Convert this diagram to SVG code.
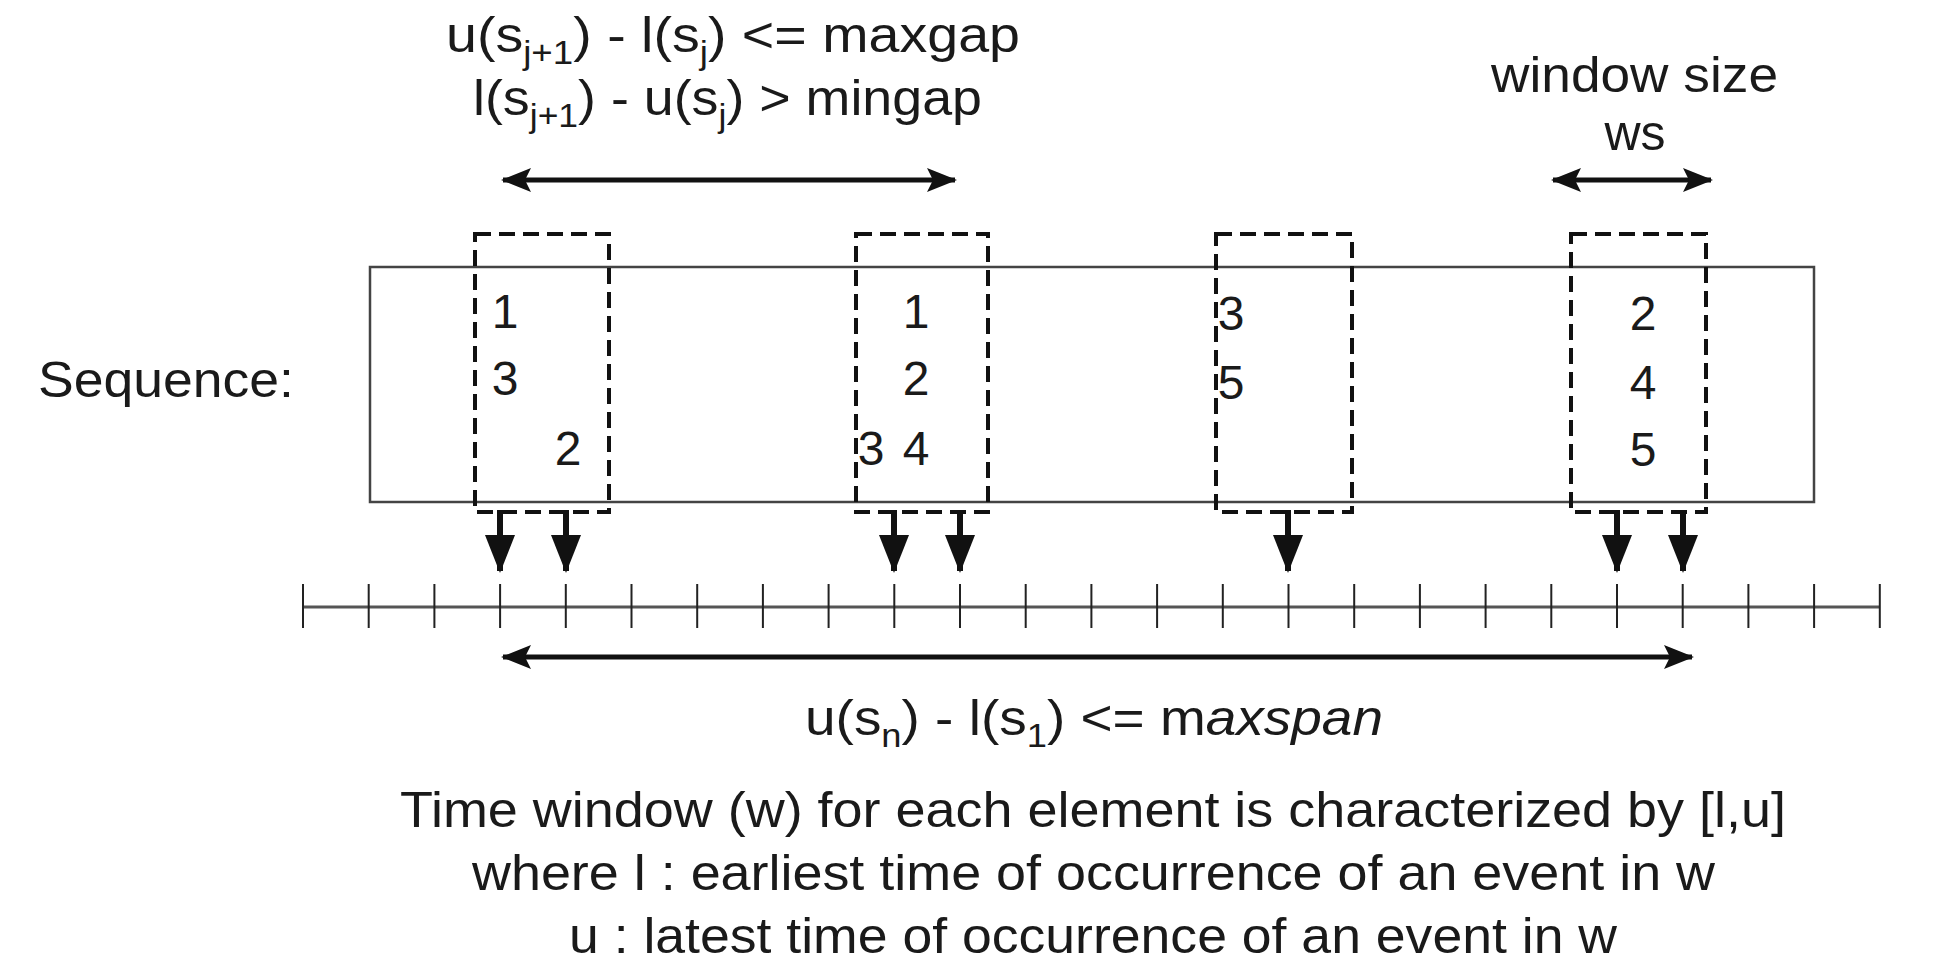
<svg xmlns="http://www.w3.org/2000/svg" width="1938" height="974" viewBox="0 0 1938 974">
<style>
text{font-family:"Liberation Sans",Arial,sans-serif;fill:#1a1a1a}
.lbl{font-size:50px}
.num{font-size:48px;text-anchor:middle}
.sub{font-size:33px}
.dash{fill:none;stroke:#111;stroke-width:4;stroke-dasharray:16 8}
.dbl{stroke:#111;stroke-width:5;marker-start:url(#ah);marker-end:url(#ah)}
.down{stroke:#111;stroke-width:6;marker-end:url(#dh)}
.tick{stroke:#222;stroke-width:2}
</style>
<defs>
<marker id="ah" viewBox="0 0 30 24" refX="28" refY="12" markerWidth="30" markerHeight="24" markerUnits="userSpaceOnUse" orient="auto-start-reverse">
<path d="M0,0 L30,12 L0,24 L6,12 Z" fill="#111"/>
</marker>
<marker id="dh" viewBox="0 0 38 30" refX="36" refY="15" markerWidth="38" markerHeight="30" markerUnits="userSpaceOnUse" orient="auto">
<path d="M0,0 L38,15 L0,30 Z" fill="#111"/>
</marker>
</defs>
<g id="labels">
<text class="lbl" x="446" y="52" textLength="574" lengthAdjust="spacingAndGlyphs">u(s<tspan class="sub" dy="12">j+1</tspan><tspan dy="-12">) - l(s</tspan><tspan class="sub" dy="12">j</tspan><tspan dy="-12">) &lt;= maxgap</tspan></text>
<text class="lbl" x="473" y="115" textLength="509" lengthAdjust="spacingAndGlyphs">l(s<tspan class="sub" dy="12">j+1</tspan><tspan dy="-12">) - u(s</tspan><tspan class="sub" dy="12">j</tspan><tspan dy="-12">) &gt; mingap</tspan></text>
<text class="lbl" x="1491" y="92" textLength="287" lengthAdjust="spacingAndGlyphs">window size</text>
<text class="lbl" x="1635" y="150" text-anchor="middle">ws</text>
<text class="lbl" x="38" y="397" textLength="256" lengthAdjust="spacingAndGlyphs">Sequence:</text>
<text class="lbl" x="805" y="735" textLength="578" lengthAdjust="spacingAndGlyphs">u(s<tspan class="sub" dy="12">n</tspan><tspan dy="-12">) - l(s</tspan><tspan class="sub" dy="12">1</tspan><tspan dy="-12">) &lt;= m</tspan><tspan font-style="italic">axspan</tspan></text>
<text class="lbl" x="400" y="827" textLength="1386" lengthAdjust="spacingAndGlyphs">Time window (w) for each element is characterized by [l,u]</text>
<text class="lbl" x="472" y="890" textLength="1243" lengthAdjust="spacingAndGlyphs">where l : earliest time of occurrence of an event in w</text>
<text class="lbl" x="569" y="953" textLength="1048" lengthAdjust="spacingAndGlyphs">u : latest time of occurrence of an event in w</text>
</g>
<g id="sequence">
<rect x="370" y="267" width="1444" height="235" fill="none" stroke="#444" stroke-width="2.5"/>
</g>
<g id="window1">
<rect class="dash" x="475" y="234" width="134" height="278"/>
<text class="num" x="505" y="328">1</text><text class="num" x="505" y="395">3</text><text class="num" x="568" y="465">2</text>
</g>
<g id="window2">
<rect class="dash" x="856" y="234" width="132" height="278"/>
<text class="num" x="916" y="328">1</text><text class="num" x="916" y="395">2</text><text class="num" x="871" y="465">3</text><text class="num" x="916" y="465">4</text>
</g>
<g id="window3">
<rect class="dash" x="1216" y="234" width="136" height="278"/>
<text class="num" x="1231" y="330">3</text><text class="num" x="1231" y="399">5</text>
</g>
<g id="window4">
<rect class="dash" x="1571" y="234" width="135" height="278"/>
<text class="num" x="1643" y="330">2</text><text class="num" x="1643" y="399">4</text><text class="num" x="1643" y="466">5</text>
</g>
<g id="timeline">
<line x1="303" y1="607" x2="1880" y2="607" stroke="#555" stroke-width="3"/>
<path class="tick" d="M303,584V628M368.7,584V628M434.4,584V628M500.1,584V628M565.8,584V628M631.5,584V628M697.2,584V628M762.9,584V628M828.6,584V628M894.3,584V628M960,584V628M1025.7,584V628M1091.4,584V628M1157.1,584V628M1222.8,584V628M1288.5,584V628M1354.2,584V628M1419.9,584V628M1485.6,584V628M1551.3,584V628M1617,584V628M1682.7,584V628M1748.4,584V628M1814.1,584V628M1879.8,584V628"/>
</g>
<g id="connectors">
<line class="dbl" x1="503" y1="180" x2="955" y2="180"/>
<line class="dbl" x1="1553" y1="180" x2="1711" y2="180"/>
<line class="dbl" x1="503" y1="657" x2="1692" y2="657"/>
<line class="down" x1="500" y1="510" x2="500" y2="571"/>
<line class="down" x1="566" y1="510" x2="566" y2="571"/>
<line class="down" x1="894" y1="510" x2="894" y2="571"/>
<line class="down" x1="960" y1="510" x2="960" y2="571"/>
<line class="down" x1="1288" y1="510" x2="1288" y2="571"/>
<line class="down" x1="1617" y1="510" x2="1617" y2="571"/>
<line class="down" x1="1683" y1="510" x2="1683" y2="571"/>
</g>
</svg>
